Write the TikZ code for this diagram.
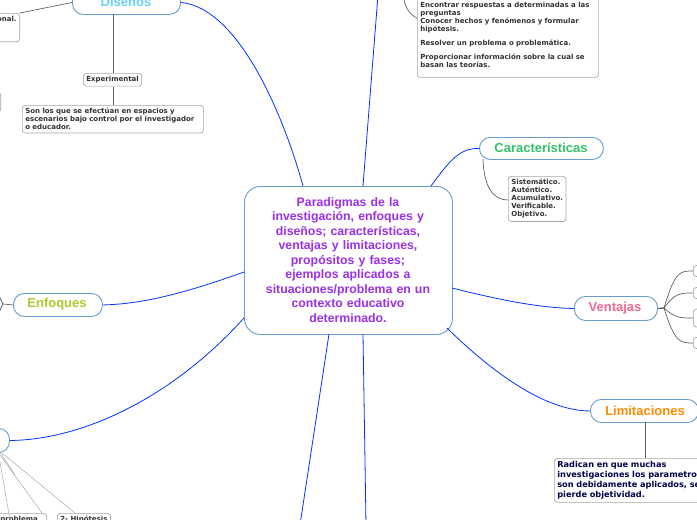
\documentclass[tikz,border=0pt]{standalone}
\usepackage{fontspec}
\setmainfont{DejaVu Sans}
\newfontfamily\titlefont{Liberation Sans}
\newcommand\nohyph{\hyphenpenalty=10000\relax\exhyphenpenalty=10000\relax}
\begin{document}
\begin{tikzpicture}[x=1pt,y=-1pt,
 main/.style={draw=blue!50!cyan!70!black!60,line width=0.9pt,rounded corners=11pt,fill=white,inner sep=0pt},
 sub/.style={draw=gray!70,line width=0.7pt,rounded corners=3pt,fill=white,align=left,font=\fontsize{7}{8}\selectfont\bfseries\nohyph,text=black!80,inner sep=3pt},
 blueline/.style={draw=blue!80!cyan,line width=0.8pt},
 grayline/.style={draw=gray!75!black,line width=0.7pt},
 thin/.style={draw=gray!80,line width=0.4pt},
 ttl/.style={font=\titlefont\fontsize{13}{15}\selectfont\bfseries}]
\useasboundingbox (0,0) rectangle (697,520);
\definecolor{purp}{HTML}{9B30E8}
% central
\node[main,minimum width=208pt,minimum height=148pt,anchor=north west,rounded corners=16pt] (c) at (244,186) {};
\node[align=center,text=purp,font=\titlefont\fontsize{12.3}{14.5}\selectfont\bfseries,text width=204pt] (ct) at (348,260) {Paradigmas de la\\investigación, enfoques y\\diseños; características,\\ventajas y limitaciones,\\propósitos y fases;\\ejemplos aplicados a\\situaciones/problema en un\\contexto educativo\\determinado.};
% Diseños
\node[main,minimum width=108pt,minimum height=24pt,anchor=north west] (dis) at (72,-10) {};
\node[ttl,text=blue!30!cyan!60] at (126,2) {Diseños};
\node[sub,text width=64pt,align=right,anchor=north east] (opc) at (20,13) {onal.\rule[-17pt]{0pt}{1pt}};
\node[sub,minimum width=20pt,minimum height=20pt,anchor=north east] (lb) at (1,92) {};
\node[sub,anchor=north west] (exp) at (83,73) {Experimental};
\node[sub,anchor=north west,text width=175pt] (expd) at (22,105) {Son los que se efectúan en espacios y escenarios bajo control por el investigador o educador.};
\draw[grayline] (dis.west) -- (opc.north east);
\draw[grayline] (113,14) -- (exp.north -| 113,0);
\draw[grayline] (113,87) -- (113,105);
\draw[blueline] (dis.east) .. controls (240,8) and (285,120) .. (303,186);
% top box
\node[sub,anchor=north west,text width=175pt,minimum height=87pt] (top) at (417,-10) {\\Encontrar respuestas a determinadas a las preguntas\\Conocer hechos y fenómenos y formular hipótesis.\\[6pt]Resolver un problema o problemática.\\[6pt]Proporcionar información sobre la cual se basan las teorías.};
\coordinate (topin) at (417,18);
\draw[grayline] (403,-5) .. controls (405,8) and (410,15) .. (topin);
\draw[blueline] (363,186) -- (378,-5);
% Características
\node[main,minimum width=124pt,minimum height=22pt,anchor=north west] (car) at (479,137) {};
\node[ttl,text=green!60!cyan!70!black!80] at (541,148) {Características};
\node[sub,anchor=north west] (carl) at (508,176) {Sistemático.\\Auténtico.\\Acumulativo.\\Verificable.\\Objetivo.};
\draw[blueline] (431,186) .. controls (450,160) and (460,148) .. (car.west);
\draw[grayline] (483,159) .. controls (484,190) and (495,200) .. (508,200);
% Ventajas
\node[main,minimum width=83pt,minimum height=24pt,anchor=north west] (ven) at (574,296) {};
\node[ttl,text=magenta!60!red!60] at (615,308) {Ventajas};
\draw[blueline] (452,288) .. controls (500,300) and (540,308) .. (ven.west);
\foreach \y/\h [count=\i] in {271/11,293/11,318/18,343/11}{
 \node[sub,anchor=west,minimum height=\h pt,minimum width=20pt] (v\i) at (693,\y) {};
 \draw[grayline] (ven.east) -- (664,308) .. controls (675,\y) and (680,\y) .. (v\i.west);
}
% Limitaciones
\node[main,minimum width=108pt,minimum height=23pt,anchor=north west] (lim) at (590,399) {};
\node[ttl,text=orange!90!yellow] at (645,411) {Limitaciones};
\draw[blueline] (447,328) .. controls (500,380) and (550,411) .. (lim.west);
\node[sub,anchor=north west,text width=190pt,font=\fontsize{8.2}{10}\selectfont\bfseries\nohyph,text=blue!30!black] (limd) at (554,458) {Radican en que muchas\\investigaciones los parametros no\\son debidamente aplicados, se\\pierde objetividad.};
\draw[grayline] (645,422) -- (645,458);
% Enfoques
\node[main,minimum width=89pt,minimum height=23pt,anchor=north west] (enf) at (13,293) {};
\node[ttl,text=yellow!70!green!90!black] at (57,304) {Enfoques};
\draw[blueline] (244,272) .. controls (180,295) and (140,304) .. (enf.east);
\draw[grayline] (enf.west) -- (3,304) -- (-3,292);
\draw[grayline] (3,304) -- (-3,316);
% bottom-left node
\node[main,minimum width=40pt,minimum height=24pt,anchor=north east] (fas) at (10,428) {};
\draw[blueline] (244,318) .. controls (170,400) and (80,440) .. (fas.east);
\node[sub,anchor=north east,minimum width=60pt] (b1) at (47,513) {l problema};
\node[sub,anchor=north west] (b2) at (57,513) {2- Hipótesis};
\draw[thin] (0,452) -- (15,475);
\draw[thin] (0,462) -- (10,520);
\draw[thin] (0,455) -- (42,513);
\draw[thin] (2,453) -- (75,513);
\draw[thin] (0,455) -- (-5,490);
% bottom lines
\draw[blueline] (329,334) -- (300,525);
\draw[blueline] (363,334) -- (366,525);
\end{tikzpicture}
\end{document}
